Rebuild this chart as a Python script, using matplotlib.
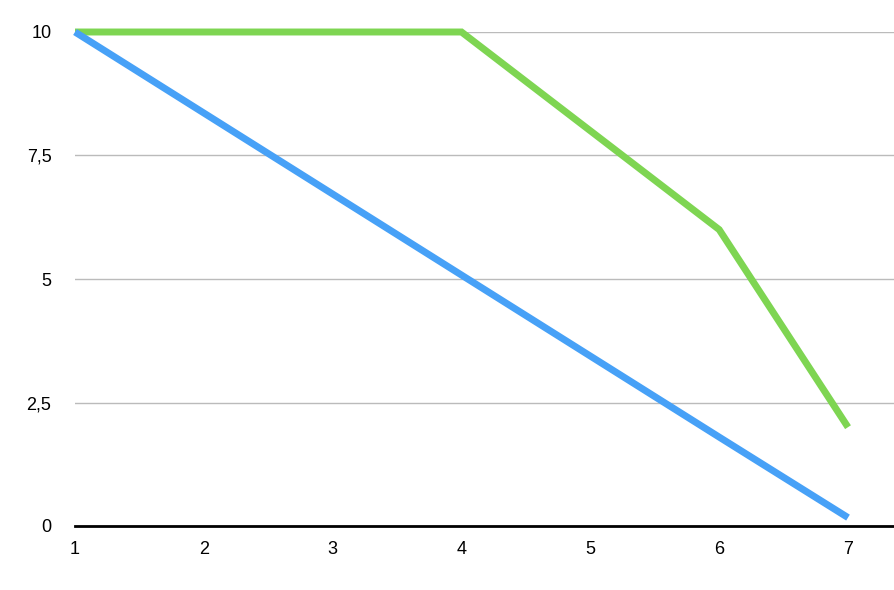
import matplotlib.pyplot as plt

plt.rcParams['font.family'] = ['Liberation Sans', 'DejaVu Sans']

# data
x_vals = [1, 2, 3, 4, 5, 6, 7]
blue = [10, 8.36, 6.72, 5.08, 3.44, 1.8, 0.17]
green = [10, 10, 10, 10, 8, 6, 2]
y_ticks = [0, 2.5, 5, 7.5, 10]
y_labels = ["0", "2,5", "5", "7,5", "10"]

fig = plt.figure(figsize=(8.94, 5.90), dpi=100)
ax = fig.add_axes([75 / 894, 64 / 590, 819 / 894, 494 / 590])

ax.plot(x_vals, green, color='#7ED552', linewidth=5, clip_on=False,
        solid_capstyle='butt', solid_joinstyle='miter', zorder=3)
ax.plot(x_vals, blue, color='#47A1F7', linewidth=5, clip_on=False,
        solid_capstyle='butt', solid_joinstyle='miter', zorder=4)

ax.set_xlim(1, 7 + 46 / 128.83)
ax.set_ylim(0, 10)
ax.set_xticks(x_vals)
ax.set_yticks(y_ticks)
ax.set_yticklabels(y_labels)
ax.grid(axis='y', color='#BBBBBB', linewidth=1)
ax.set_axisbelow(True)

for s in ['top', 'right', 'left']:
    ax.spines[s].set_visible(False)
ax.spines['bottom'].set_linewidth(2)
ax.spines['bottom'].set_zorder(5)
ax.tick_params(length=0, labelsize=13)
ax.tick_params(axis='y', pad=17)
ax.tick_params(axis='x', pad=11)

fig.savefig('out.png')
